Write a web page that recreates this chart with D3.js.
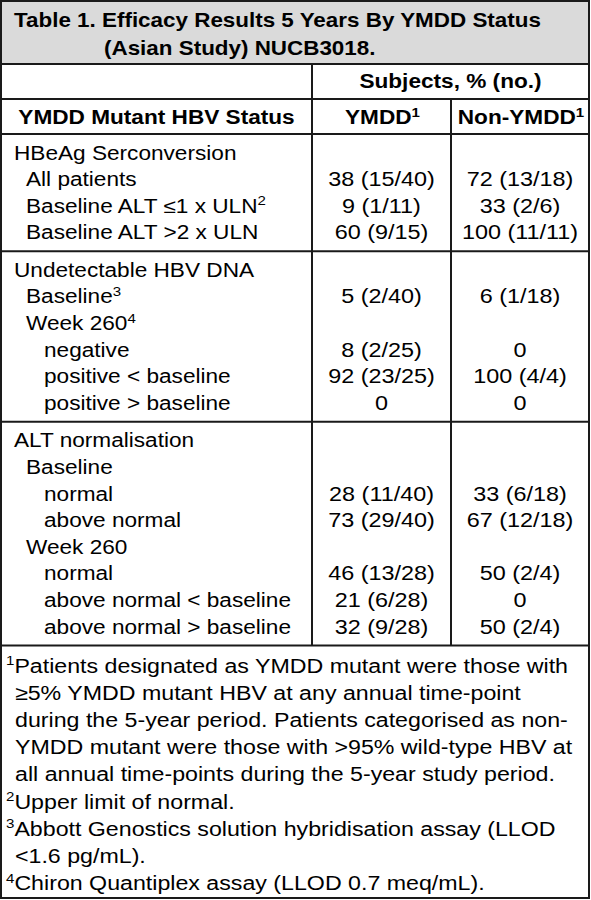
<!DOCTYPE html>
<html>
<head>
<meta charset="utf-8">
<script src="https://cdn.jsdelivr.net/npm/d3@7"></script>
<style>
  body { margin: 0; background: #fff; }
  svg { display: block; }
</style>
</head>
<body>
<div id="table1"></div>
<script>
// table text
const titleLines = ["Table 1. Efficacy Results 5 Years By YMDD Status", "(Asian Study) NUCB3018."]
const spanHeader = "Subjects, % (no.)"
const colHeaders = ["YMDD Mutant HBV Status", "YMDD", "Non-YMDD"]
const colHeaderSup = ["", "1", "1"]

// body rows, grouped in blocks
const blockSizes = [4, 6, 8]
const rowLabels = [
  "HBeAg Serconversion", "All patients", "Baseline ALT \u22641 x ULN", "Baseline ALT >2 x ULN",
  "Undetectable HBV DNA", "Baseline", "Week 260", "negative", "positive < baseline", "positive > baseline",
  "ALT normalisation", "Baseline", "normal", "above normal", "Week 260", "normal",
  "above normal < baseline", "above normal > baseline"
]
const rowSup = ["", "", "2", "", "", "3", "4", "", "", "", "", "", "", "", "", "", "", ""]
const rowLevel = [0, 1, 1, 1, 0, 1, 1, 2, 2, 2, 0, 1, 2, 2, 1, 2, 2, 2]
const ymddValues = ["", "38 (15/40)", "9 (1/11)", "60 (9/15)", "", "5 (2/40)", "", "8 (2/25)",
  "92 (23/25)", "0", "", "", "28 (11/40)", "73 (29/40)", "", "46 (13/28)", "21 (6/28)", "32 (9/28)"]
const nonYmddValues = ["", "72 (13/18)", "33 (2/6)", "100 (11/11)", "", "6 (1/18)", "", "0",
  "100 (4/4)", "0", "", "", "33 (6/18)", "67 (12/18)", "", "50 (2/4)", "0", "50 (2/4)"]

// footnotes, one entry per printed line
const footSup = ["1", "", "", "", "", "2", "3", "", "4"]
const footLines = [
  "Patients designated as YMDD mutant were those with",
  "\u22655% YMDD mutant HBV at any annual time-point",
  "during the 5-year period. Patients categorised as non-",
  "YMDD mutant were those with >95% wild-type HBV at",
  "all annual time-points during the 5-year study period.",
  "Upper limit of normal.",
  "Abbott Genostics solution hybridisation assay (LLOD",
  "<1.6 pg/mL).",
  "Chiron Quantiplex assay (LLOD 0.7 meq/mL)."
]

const width = 591
const height = 900
const fontSize = 19.5
const supSize = 13
const sx = 1.16   // the print is a bit wider than plain Arial
const ink = "#1a1a1a"

const svg = d3.select("#table1")
  .append("svg")
    .attr("width", width)
    .attr("height", height)
    .style("font-family", "'Liberation Sans', Arial, Helvetica, sans-serif")

// column edges and row geometry
const colEdges = [1, 312, 451, 589]
const colMid = i => (colEdges[i] + colEdges[i + 1]) / 2
const indent = d3.scaleOrdinal().domain([0, 1, 2]).range([14, 26, 44])
const titleBottom = 64, spanBottom = 99, headBottom = 134
const pitch = 26.6, firstOffset = 25.5, lastPad = 12

// baseline of every body row and the rule under every block
const rowY = []
const blockRules = []
let blockTop = headBottom
blockSizes.forEach(n => {
  for (let k = 0; k < n; k++) rowY.push(blockTop + firstOffset + k * pitch)
  blockTop = blockTop + firstOffset + (n - 1) * pitch + lastPad
  blockRules.push(blockTop)
})
const bodyBottom = blockRules[blockRules.length - 1]
const footY = d3.scaleLinear().domain([0, 1]).range([bodyBottom + 27, bodyBottom + 27 + 27.2])

// title background
svg.append("rect")
  .attr("x", 1).attr("y", 1)
  .attr("width", 588).attr("height", titleBottom - 1)
  .attr("fill", "#dadada")

// helper to write scaled text, with an optional superscript
function put(g, x, y, txt, sup, opts = {}) {
  const t = g.append("text")
    .attr("transform", `translate(${x},${y}) scale(${opts.sx || sx},1)`)
    .attr("text-anchor", opts.anchor || "start")
    .attr("font-weight", opts.bold ? "bold" : "normal")
    .attr("font-size", opts.size || fontSize)
    .attr("fill", "#000")
  if (opts.supFirst && sup) {
    t.append("tspan").attr("font-size", supSize).attr("dy", -7.5).text(sup)
    t.append("tspan").attr("dy", 7.5).text(txt)
  } else {
    t.append("tspan").text(txt)
    if (sup) t.append("tspan").attr("font-size", supSize).attr("dy", -7.5).text(sup)
  }
  return t
}

const texts = svg.append("g")

// title
put(texts, 14, 27, titleLines[0], "", { bold: true, sx: 1.15 })
put(texts, 104, 55, titleLines[1], "", { bold: true, sx: 1.15 })

// headers
put(texts, (colEdges[1] + colEdges[3]) / 2, 88, spanHeader, "", { bold: true, anchor: "middle" })
colHeaders.forEach((h, i) => {
  put(texts, colMid(i) + (i === 0 ? 0 : 1), 124, h, colHeaderSup[i], { bold: true, anchor: "middle" })
})

// body rows
rowLabels.forEach((lab, i) => {
  put(texts, indent(rowLevel[i]), rowY[i], lab, rowSup[i])
  if (ymddValues[i]) put(texts, colMid(1), rowY[i], ymddValues[i], "", { anchor: "middle", sx: 1.2 })
  if (nonYmddValues[i]) put(texts, colMid(2), rowY[i], nonYmddValues[i], "", { anchor: "middle", sx: 1.2 })
})

// footnotes
footLines.forEach((line, i) => {
  put(texts, footSup[i] ? 6 : 15, footY(i), line, footSup[i], { supFirst: true, size: 20 })
})

// rules
const rules = svg.append("g").attr("stroke", ink).attr("stroke-width", 2)
const hRules = [titleBottom, spanBottom, headBottom].concat(blockRules)
rules.selectAll("line.h")
  .data(hRules)
  .join("line")
    .attr("class", "h")
    .attr("x1", 1).attr("x2", 589)
    .attr("y1", d => d).attr("y2", d => d)

// column rules: first runs from the title down, second only below the span header
rules.append("line")
  .attr("x1", colEdges[1]).attr("x2", colEdges[1])
  .attr("y1", titleBottom).attr("y2", bodyBottom)
rules.append("line")
  .attr("x1", colEdges[2]).attr("x2", colEdges[2])
  .attr("y1", spanBottom).attr("y2", bodyBottom)

// outer frame
rules.append("rect")
  .attr("x", 1).attr("y", 1)
  .attr("width", 588).attr("height", 897)
  .attr("fill", "none")
</script>
</body>
</html>
